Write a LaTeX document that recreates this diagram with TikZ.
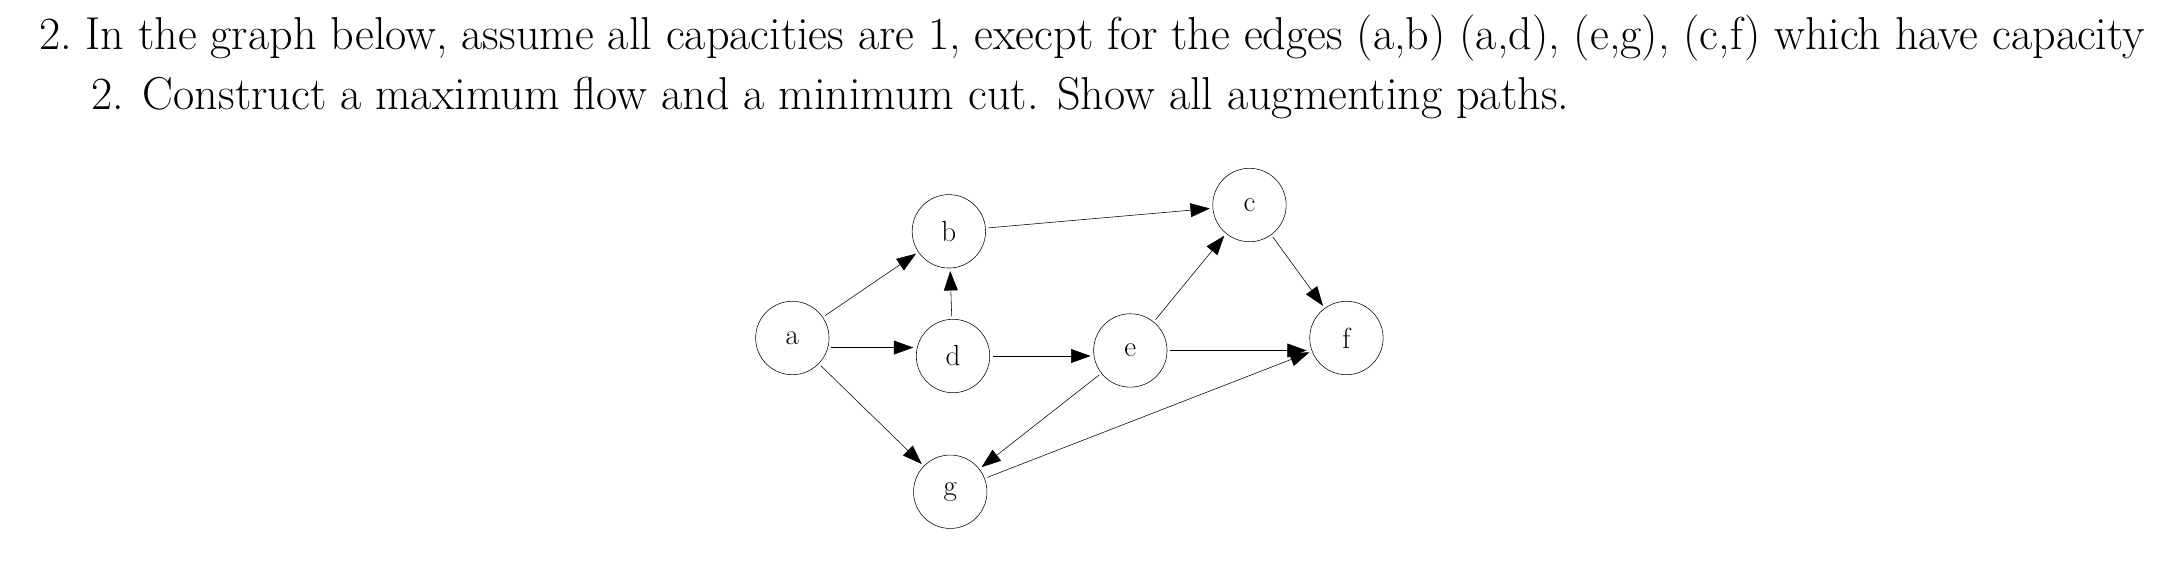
\documentclass[tikz,border=0pt]{standalone}
\usetikzlibrary{arrows.meta}
\begin{document}
\begin{tikzpicture}[x=1pt,y=-1pt,
  v/.style={circle,draw,thin,minimum size=53pt,inner sep=0pt,font=\fontsize{21}{21}\selectfont},
  e/.style={-{Triangle[length=14pt,width=10pt]},thin,shorten >=2pt,shorten <=2pt},
  t/.style={anchor=base west,inner sep=0pt,font=\fontsize{33.3}{36}\selectfont}]
\useasboundingbox (0,0) rectangle (1568,407);
\node[t] (l1) at (28,36) {2.\hspace{0.3em}In the graph below, assume all capacities are 1, execpt for the edges (a,b) (a,d), (e,g), (c,f) which have capacity};
\node[t] (l2) at (66,79) {2. Construct a maximum flow and a minimum cut. Show all augmenting paths.};
\node[v] (a) at (572,244) {a};
\node[v] (b) at (685,167) {b};
\node[v] (c) at (902,148) {c};
\node[v] (d) at (688,257) {d};
\node[v] (e) at (816,253) {e};
\node[v] (f) at (972,244) {f};
\node[v] (g) at (686,355) {g};
\draw[e] (a) -- (b);
\draw[e] (a.-15) -- (d.west |- a.-15);
\draw[e] (a) -- (g);
\draw[e] (d) -- (b);
\draw[e] (b) -- (c);
\draw[e] (d.east) -- (e.west |- d.east);
\draw[e] (e) -- (c);
\draw[e] (e.east) -- (f.west |- e.east);
\draw[e] (e) -- (g);
\draw[e] (c) -- (f);
\draw[e] (g) -- (f);
\end{tikzpicture}
\end{document}
